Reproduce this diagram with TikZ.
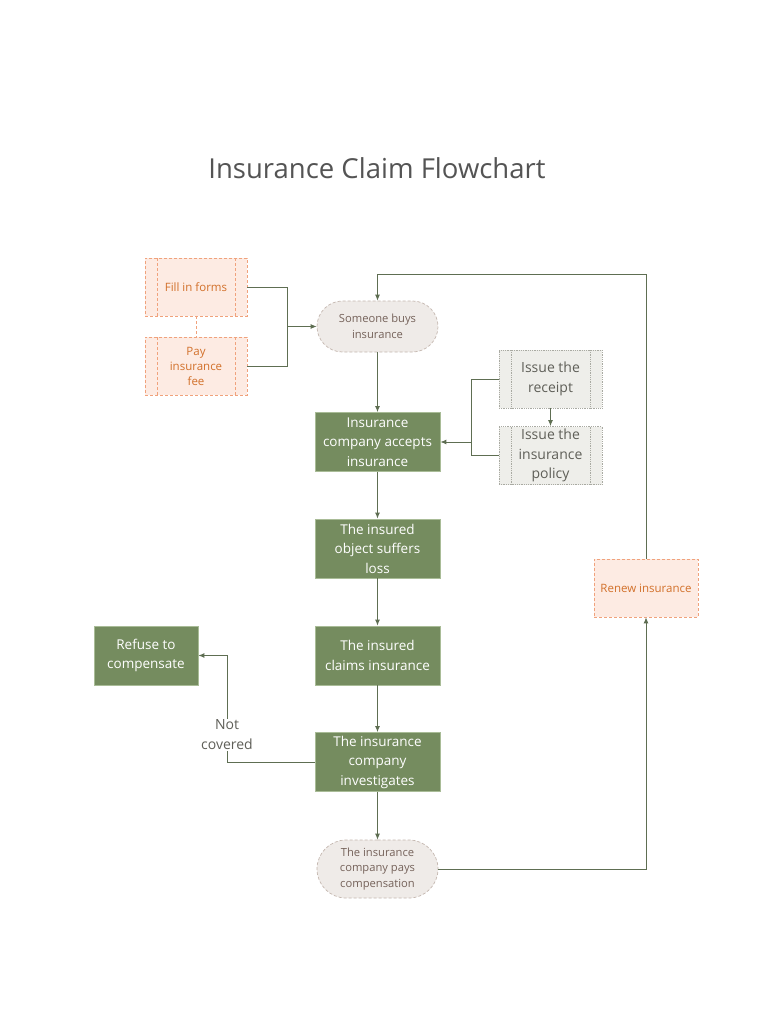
\documentclass[tikz,border=0pt]{standalone}
\usepackage{fontspec}
\setmainfont{Open Sans}
\usetikzlibrary{arrows.meta,shapes.misc}
\definecolor{gfill}{HTML}{758C5F}
\definecolor{gedge}{HTML}{A9BC97}
\definecolor{lcol}{HTML}{5E6E52}
\definecolor{ttl}{HTML}{545454}
\definecolor{otext}{HTML}{D2702A}
\definecolor{pfill}{HTML}{FDEBE3}
\definecolor{pedge}{HTML}{F0A27C}
\definecolor{gyfill}{HTML}{EEEEEA}
\definecolor{gyedge}{HTML}{A9AAA2}
\definecolor{gytext}{HTML}{5F5F58}
\definecolor{sfill}{HTML}{EFEBE8}
\definecolor{sedge}{HTML}{C4B7AF}
\definecolor{stext}{HTML}{75625A}
\tikzset{
  x=1pt,y=-1pt,
  greenbox/.style={rectangle,fill=gfill,draw=gedge,line width=0.8pt,minimum width=125pt,minimum height=59pt,inner sep=2pt,text=white,align=center,font=\fontsize{13.5}{19.5}\selectfont},
  pinkbox/.style={rectangle,fill=pfill,draw=pedge,densely dashed,line width=0.7pt,minimum width=102pt,minimum height=58pt,inner sep=2pt,text=otext,align=center,font=\fontsize{11.5}{15}\selectfont},
  innerlines/.style={path picture={
     \draw[#1,line width=0.7pt] ([xshift=12pt]path picture bounding box.north west) -- ([xshift=12pt]path picture bounding box.south west);
     \draw[#1,line width=0.7pt] ([xshift=-12pt]path picture bounding box.north east) -- ([xshift=-12pt]path picture bounding box.south east);}},
  graybox/.style={rectangle,fill=gyfill,draw=gyedge,densely dotted,line width=0.8pt,minimum width=103pt,minimum height=58pt,inner sep=2pt,text=gytext,align=center,font=\fontsize{14}{19.5}\selectfont},
  stad/.style={rounded rectangle,fill=sfill,draw=sedge,densely dashed,line width=0.7pt,minimum width=125pt,inner sep=2pt,text=stext,align=center,font=\fontsize{11.2}{15.5}\selectfont},
  conn/.style={draw=lcol,line width=0.9pt},
  arr/.style={conn,-{Latex[length=6pt,width=5pt]}},
}
\begin{document}
\begin{tikzpicture}
\useasboundingbox[fill=white] (0,0) rectangle (768,1024);
\node[text=ttl,font=\fontsize{27.5}{32}\selectfont] (title) at (377,168) {Insurance Claim Flowchart};

\node[pinkbox,innerlines=pedge] (fill) at (196,287) {Fill in forms};
\node[pinkbox,innerlines=pedge] (pay) at (196,366) {Pay\\insurance\\fee};
\node[stad,minimum height=51pt] (buy) at (377.5,326.5) {Someone buys\\insurance};
\node[greenbox] (accept) at (377.5,442) {Insurance\\company accepts\\insurance};
\node[graybox,innerlines=gyedge] (receipt) at (550.5,379) {Issue the\\receipt};
\node[graybox,innerlines=gyedge] (policy) at (550.5,455.5) {Issue the\\insurance\\policy};
\node[greenbox] (loss) at (377.5,548.5) {The insured\\object suffers\\loss};
\node[greenbox] (claim) at (377.5,655.5) {The insured\\claims insurance};
\node[greenbox] (invest) at (377.5,762) {The insurance\\company\\investigates};
\node[greenbox,minimum width=104pt] (refuse) at (146,655.5) {Refuse to\\compensate};
\node[stad,minimum height=58pt] (pays) at (377.5,869) {The insurance\\company pays\\compensation};
\node[pinkbox,minimum width=104pt] (renew) at (646,588) {Renew insurance};

\draw[draw=pedge,densely dashed,line width=0.7pt] (fill.south) -- (pay.north);
\coordinate (j1) at (287,326.5);
\draw[conn] (fill.east) -| (j1);
\draw[conn] (pay.east) -| (j1);
\draw[arr] (j1) -- (buy.west);
\draw[arr] (buy.south) -- (accept.north);
\draw[arr] (receipt.south) -- (policy.north);
\coordinate (j2) at (471,442);
\draw[conn] (receipt.west) -| (j2);
\draw[conn] (policy.west) -| (j2);
\draw[arr] (j2) -- (accept.east);
\draw[arr] (accept.south) -- (loss.north);
\draw[arr] (loss.south) -- (claim.north);
\draw[arr] (claim.south) -- (invest.north);
\draw[arr] (invest.south) -- (pays.north);
\coordinate (j3) at (227,762);
\draw[arr] (invest.west) -- (j3) |- (refuse.east);
\node[fill=white,text=gytext,align=center,inner sep=1pt,font=\fontsize{14}{20}\selectfont] (nc) at (227,735) {Not\\covered};
\draw[arr] (pays.east) -| (renew.south);
\coordinate (j4) at (646,274);
\draw[arr] (renew.north) -- (j4) -| (buy.north);
\end{tikzpicture}
\end{document}
